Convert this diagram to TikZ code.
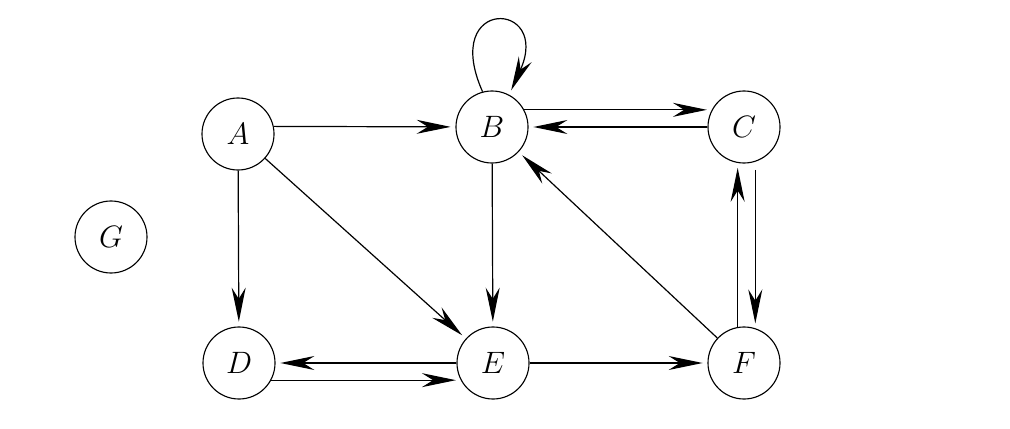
\RequirePackage{fix-cm}
\documentclass[tikz,border=0pt]{standalone}
\usepackage{tikz}
\usetikzlibrary{arrows.meta}

\begin{document}
\begin{tikzpicture}[
			x=0.025cm, y=0.025cm,
			vertex/.style={circle, draw=black, line width=0.8pt, minimum size=1.8cm, inner sep=0pt, font=\fontsize{22}{26}\selectfont},
			link/.style={-{Stealth[length=0.85cm, width=0.35cm, inset=0.28cm]}, line width=0.85pt, shorten >=0.12cm}
			]
			\useasboundingbox (0,0) rectangle (1010,428);
			\node[vertex] (A) at (238,294) {$A$};
			\node[vertex] (B) at (492,301) {$B$};
			\node[vertex] (C) at (744,301) {$C$};
			\node[vertex] (D) at (239,65) {$D$};
			\node[vertex] (E) at (493,65) {$E$};
			\node[vertex] (F) at (744,65) {$F$};
			\node[vertex] (G) at (111,191) {$G$};
			
			\draw[link] (B.105) .. controls (440,432) and (552,428) .. (B.62);
			\draw[link] (A.12) -- (B);
			\draw[link] (A) -- (D);
			\draw[link] (A) -- (E);
			\draw[link] (B.28) -- (C.152);
			\draw[link] (C) -- (B);
			\draw[link] (B) -- (E);
			\draw[link] (F.100) -- (C.260);
			\draw[link, shorten <=0.2cm] (C.288) -- (F.72);
			\draw[link] (E) -- (D);
			\draw[link] (D.-28) -- (E.-152);
			\draw[link] (E) -- (F);
			\draw[link] (F) -- (B);
		\end{tikzpicture}
\end{document}
